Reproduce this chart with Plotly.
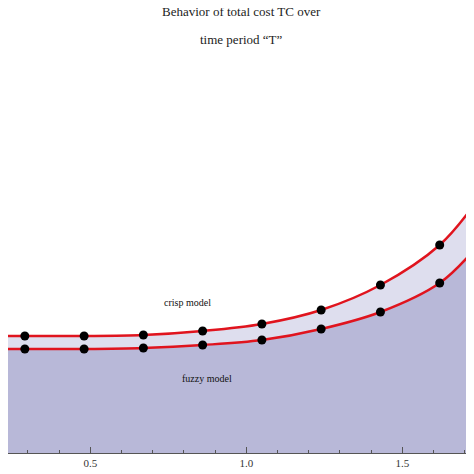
import plotly.graph_objects as go

# curve samples (x = period T, y = total cost, arbitrary units)
t_line = [0.21, 0.29, 0.48, 0.67, 0.86, 1.05, 1.24, 1.43, 1.62, 1.73]
crisp_line = [117, 117, 117, 118, 122, 129, 143, 168, 208, 248]
fuzzy_line = [104, 104, 104, 105, 108, 113, 124, 141, 170, 203]

t_pts = [0.29, 0.48, 0.67, 0.86, 1.05, 1.24, 1.43, 1.62]
crisp_pts = [117, 117, 118, 122, 129, 143, 168, 208]
fuzzy_pts = [104, 104, 105, 108, 113, 124, 141, 170]

fig = go.Figure()
fig.add_trace(go.Scatter(x=t_line, y=fuzzy_line, mode="lines", line=dict(color="#e0141e", width=2.5, shape="spline"),
                         fill="tozeroy", fillcolor="#b8b8d8"))
fig.add_trace(go.Scatter(x=t_line, y=crisp_line, mode="lines", line=dict(color="#e0141e", width=2.5, shape="spline"),
                         fill="tonexty", fillcolor="#dedeee"))
for ys in (crisp_pts, fuzzy_pts):
    fig.add_trace(go.Scatter(x=t_pts, y=ys, mode="markers", marker=dict(color="black", size=9)))

serif = "Liberation Serif"
fig.add_annotation(text="Behavior of total cost TC over", x=0.5, y=0.992, xref="paper", yref="paper",
                   yanchor="middle", showarrow=False, font=dict(family=serif, size=13, color="#222"))
fig.add_annotation(text="time period “T”", x=0.5, y=0.93, xref="paper", yref="paper",
                   yanchor="middle", showarrow=False, font=dict(family=serif, size=13, color="#222"))
fig.add_annotation(text="crisp model", x=0.81, y=151, showarrow=False, font=dict(family=serif, size=10, color="#111"))
fig.add_annotation(text="fuzzy model", x=0.875, y=75, showarrow=False, font=dict(family=serif, size=10, color="#111"))

fig.update_layout(
    width=466, height=466, margin=dict(l=0, r=0, t=0, b=21),
    paper_bgcolor="white", plot_bgcolor="white", showlegend=False,
    xaxis=dict(range=[0.236, 1.73], dtick=0.5, tickformat=".1f", ticks="inside", ticklen=6, tickcolor="#555",
               minor=dict(dtick=0.1, ticks="inside", ticklen=3, tickcolor="#555"),
               showgrid=False, zeroline=False, showline=True, linecolor="#555", linewidth=1,
               tickfont=dict(family=serif, size=11, color="#333")),
    yaxis=dict(range=[0, 445], visible=False),
)
fig.write_html("out.html")
